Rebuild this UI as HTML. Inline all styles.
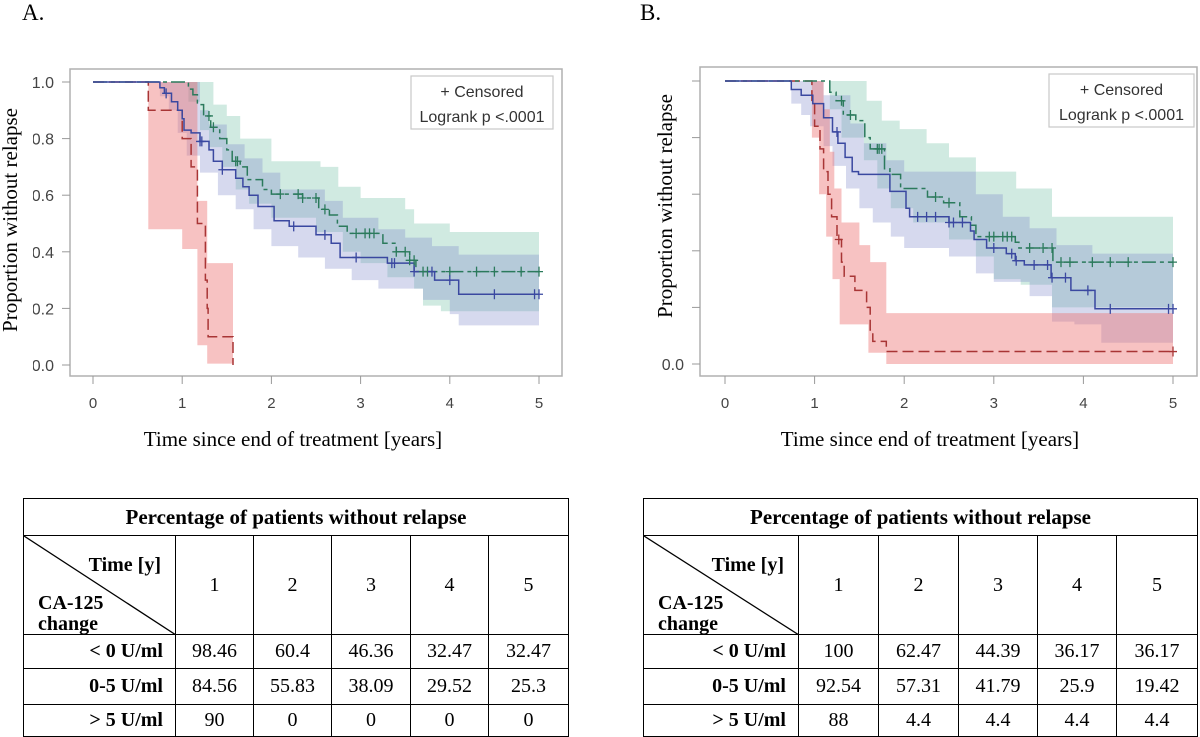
<!DOCTYPE html>
<html><head><meta charset="utf-8">
<style>
body{margin:0;background:#fff;width:1200px;height:736px;overflow:hidden;position:relative;font-family:"Liberation Serif",serif}
.lbl{position:absolute;font-size:23px;font-family:"Liberation Serif",serif}
table.t{position:absolute;border-collapse:collapse;font-family:"Liberation Serif",serif;font-size:20px;table-layout:fixed}
table.t td{border:1.5px solid #000;text-align:center;padding:0}
table.t td.rh{text-align:right;font-weight:bold;padding-right:12px}
.hd{position:relative}
</style></head><body>
<div class="lbl" style="left:22px;top:0px">A.</div>
<div class="lbl" style="left:640px;top:0px">B.</div>
<svg id="chart" width="1200" height="736" style="position:absolute;left:0;top:0"></svg>

<table class="t" style="left:23px;top:498px;width:545px">
<colgroup><col style="width:152px"><col style="width:78px"><col style="width:78px"><col style="width:79px"><col style="width:78px"><col style="width:80px"></colgroup>
<tr style="height:37px"><td colspan="6" style="font-weight:bold;font-size:21px">Percentage of patients without relapse</td></tr>
<tr style="height:99px"><td class="hd"><svg width="152" height="99" style="position:absolute;left:0;top:0"><line x1="0" y1="0" x2="152" y2="99" stroke="#000" stroke-width="1.3"/><text x="137" y="35" text-anchor="end" font-weight="bold" font-size="20" font-family="Liberation Serif">Time [y]</text><text x="14" y="73" font-weight="bold" font-size="20" font-family="Liberation Serif">CA-125</text><text x="14" y="94" font-weight="bold" font-size="20" font-family="Liberation Serif">change</text></svg></td><td>1</td><td>2</td><td>3</td><td>4</td><td>5</td></tr>
<tr style="height:34px"><td class="rh">&lt; 0 U/ml</td><td>98.46</td><td>60.4</td><td>46.36</td><td>32.47</td><td>32.47</td></tr>
<tr style="height:36px"><td class="rh">0-5 U/ml</td><td>84.56</td><td>55.83</td><td>38.09</td><td>29.52</td><td>25.3</td></tr>
<tr style="height:32px"><td class="rh">&gt; 5 U/ml</td><td>90</td><td>0</td><td>0</td><td>0</td><td>0</td></tr>
</table>

<table class="t" style="left:643px;top:498px;width:554px">
<colgroup><col style="width:155px"><col style="width:80px"><col style="width:80px"><col style="width:79px"><col style="width:79px"><col style="width:81px"></colgroup>
<tr style="height:37px"><td colspan="6" style="font-weight:bold;font-size:21px">Percentage of patients without relapse</td></tr>
<tr style="height:99px"><td class="hd"><svg width="155" height="99" style="position:absolute;left:0;top:0"><line x1="0" y1="0" x2="155" y2="99" stroke="#000" stroke-width="1.3"/><text x="140" y="35" text-anchor="end" font-weight="bold" font-size="20" font-family="Liberation Serif">Time [y]</text><text x="14" y="73" font-weight="bold" font-size="20" font-family="Liberation Serif">CA-125</text><text x="14" y="94" font-weight="bold" font-size="20" font-family="Liberation Serif">change</text></svg></td><td>1</td><td>2</td><td>3</td><td>4</td><td>5</td></tr>
<tr style="height:34px"><td class="rh">&lt; 0 U/ml</td><td>100</td><td>62.47</td><td>44.39</td><td>36.17</td><td>36.17</td></tr>
<tr style="height:36px"><td class="rh">0-5 U/ml</td><td>92.54</td><td>57.31</td><td>41.79</td><td>25.9</td><td>19.42</td></tr>
<tr style="height:32px"><td class="rh">&gt; 5 U/ml</td><td>88</td><td>4.4</td><td>4.4</td><td>4.4</td><td>4.4</td></tr>
</table>

<script>
// ---- Panel A data ----
const aGreen=[[0,1],[1.07,0.975],[1.12,0.955],[1.17,0.92],[1.24,0.88],[1.32,0.84],[1.42,0.80],[1.5,0.76],[1.56,0.72],[1.65,0.70],[1.73,0.655],[1.9,0.62],[2.0,0.604],[2.35,0.59],[2.53,0.55],[2.65,0.53],[2.74,0.49],[2.85,0.465],[3.25,0.43],[3.4,0.40],[3.55,0.37],[3.62,0.33]];
const aBlue=[[0,1],[0.75,0.98],[0.8,0.96],[0.88,0.93],[0.95,0.90],[1.0,0.87],[1.02,0.83],[1.1,0.82],[1.2,0.79],[1.3,0.76],[1.35,0.72],[1.45,0.69],[1.6,0.66],[1.68,0.63],[1.75,0.60],[1.85,0.56],[2.03,0.51],[2.2,0.49],[2.5,0.46],[2.67,0.43],[2.77,0.38],[3.3,0.36],[3.6,0.33],[3.83,0.30],[4.1,0.25]];
const aRed=[[0,1],[0.62,0.9],[1.0,0.8],[1.1,0.7],[1.17,0.5],[1.26,0.3],[1.28,0.2],[1.29,0.1],[1.57,0]];
const aGreenUp=[[1.07,1],[1.2,1],[1.35,0.92],[1.5,0.88],[1.65,0.80],[2.0,0.72],[2.55,0.70],[2.75,0.63],[3.0,0.59],[3.5,0.55],[3.6,0.50],[4.0,0.47]];
const aGreenLo=[[1.07,0.93],[1.2,0.83],[1.3,0.77],[1.45,0.70],[1.6,0.62],[1.75,0.57],[2.0,0.52],[2.5,0.47],[2.8,0.40],[3.0,0.36],[3.3,0.31],[3.6,0.27],[3.7,0.21],[3.9,0.19]];
const aBlueUp=[[0.75,1],[0.95,1],[1.2,0.9],[1.3,0.85],[1.5,0.78],[1.7,0.73],[1.9,0.68],[2.1,0.62],[2.6,0.58],[2.8,0.52],[3.2,0.48],[3.5,0.45],[3.8,0.42],[4.1,0.39]];
const aBlueLo=[[0.75,0.95],[0.85,0.90],[0.95,0.82],[1.05,0.74],[1.2,0.68],[1.4,0.60],[1.6,0.55],[1.8,0.48],[2.0,0.42],[2.3,0.38],[2.6,0.34],[2.9,0.30],[3.2,0.27],[3.7,0.23],[4.0,0.18],[4.1,0.14]];
const aRedUp=[[0.62,1],[1.17,0.58],[1.28,0.36]];
const aRedLo=[[0.62,0.48],[1.0,0.41],[1.17,0.07],[1.28,0.005]];
const aGreenCens=[1.3,1.35,1.6,1.62,2.1,2.3,2.35,2.5,2.6,2.95,3.05,3.1,3.15,3.4,3.5,3.55,3.6,3.7,3.75,4.0,4.3,4.5,4.8,5.0];
const aBlueCens=[0.82,1.2,1.22,1.45,2.25,2.6,2.95,3.35,3.38,3.6,3.8,4.0,4.5,4.95,5.0];
// ---- Panel B data ----
const bGreen=[[0,1],[1.17,0.96],[1.24,0.93],[1.32,0.88],[1.46,0.86],[1.56,0.80],[1.62,0.76],[1.78,0.69],[1.84,0.67],[1.96,0.62],[2.26,0.59],[2.44,0.57],[2.62,0.52],[2.75,0.49],[2.8,0.45],[3.24,0.43],[3.28,0.41],[3.66,0.36]];
const bBlue=[[0,1],[0.74,0.97],[0.85,0.95],[0.98,0.92],[1.1,0.87],[1.2,0.82],[1.26,0.78],[1.34,0.73],[1.42,0.68],[1.49,0.67],[1.84,0.61],[2.02,0.55],[2.06,0.52],[2.5,0.50],[2.74,0.47],[2.78,0.44],[2.92,0.41],[3.14,0.39],[3.24,0.365],[3.34,0.35],[3.64,0.305],[3.86,0.26],[4.13,0.195]];
const bRed=[[0,1],[0.97,0.92],[1.0,0.84],[1.06,0.76],[1.1,0.68],[1.15,0.6],[1.19,0.52],[1.25,0.44],[1.3,0.36],[1.33,0.31],[1.45,0.26],[1.58,0.2],[1.62,0.12],[1.65,0.08],[1.8,0.044]];
const bGreenUp=[[1.17,1],[1.58,0.93],[1.75,0.86],[1.95,0.83],[2.25,0.78],[2.5,0.73],[2.8,0.68],[3.25,0.62],[3.65,0.52]];
const bGreenLo=[[1.17,0.9],[1.3,0.8],[1.55,0.72],[1.7,0.62],[1.85,0.55],[2.1,0.5],[2.5,0.44],[2.8,0.38],[3.0,0.3],[3.3,0.28],[3.65,0.2]];
const bBlueUp=[[0.74,1],[1.1,0.95],[1.4,0.85],[1.55,0.78],[1.8,0.72],[2.0,0.68],[2.8,0.6],[3.1,0.52],[3.4,0.48],[3.7,0.42],[4.1,0.39]];
const bBlueLo=[[0.74,0.92],[0.85,0.88],[0.95,0.84],[1.1,0.77],[1.2,0.7],[1.35,0.62],[1.5,0.55],[1.65,0.5],[1.85,0.45],[2.0,0.41],[2.5,0.38],[2.8,0.32],[3.0,0.29],[3.4,0.24],[3.65,0.15],[3.9,0.14],[4.2,0.075]];
const bRedUp=[[0.97,1],[1.1,0.9],[1.17,0.75],[1.22,0.62],[1.3,0.5],[1.5,0.42],[1.62,0.36],[1.8,0.18]];
const bRedLo=[[0.97,0.8],[1.05,0.6],[1.13,0.45],[1.2,0.3],[1.28,0.14],[1.6,0.04],[1.8,0]];
const bGreenCens=[1.3,1.4,1.7,1.72,1.75,2.35,2.5,2.95,3.0,3.1,3.15,3.2,3.4,3.55,3.65,3.75,3.85,4.1,4.3,4.5,5.0];
const bBlueCens=[1.25,2.15,2.25,2.35,2.5,2.55,2.65,3.0,3.2,3.25,3.45,3.6,3.65,3.8,4.05,4.3,4.95,5.0];
const bRedCens=[1.27,5.0];
const xTicks=[0,1,2,3,4,5];
const yTicks=[0,0.2,0.4,0.6,0.8,1.0];

const svg=document.getElementById('chart');
const NS='http://www.w3.org/2000/svg';
function mk(tag,attrs,parent){const e=document.createElementNS(NS,tag);for(const k in attrs)e.setAttribute(k,attrs[k]);(parent||svg).appendChild(e);return e;}
function stepVerts(arr,t1,X,Y){const v=[];for(let i=0;i<arr.length;i++){const t=arr[i][0],s=arr[i][1];if(i>0)v.push([X(t),Y(arr[i-1][1])]);v.push([X(t),Y(s)]);}v.push([X(t1),Y(arr[arr.length-1][1])]);return v;}
function valAt(arr,t){let s=arr[0][1];for(const p of arr){if(p[0]<=t)s=p[1];}return s;}

function panel(cfg){
  const g=mk('g',{});
  
  
  const X=t=>cfg.x0+t*cfg.xs, Y=s=>cfg.y0-s*cfg.ys;
  const fr=mk('rect',{x:cfg.fl,y:cfg.ft,width:cfg.fr-cfg.fl,height:cfg.fb-cfg.ft,fill:'none',stroke:'#b0b0b0','stroke-width':1.5},g);
  
  
  function band(up,lo,end,fill,name){
    const vu=stepVerts(up,end,X,Y), vl=stepVerts(lo,end,X,Y).reverse();
    const pts=vu.concat(vl).map(p=>p[0].toFixed(1)+','+p[1].toFixed(1)).join(' ');
    const pg=mk('polygon',{points:pts,fill:fill,stroke:'none'},g);
    
    
  }
  band(cfg.gUp,cfg.gLo,5,'rgba(120,195,170,0.35)','ci-band-lt0');
  band(cfg.bUp,cfg.bLo,5,'rgba(120,130,200,0.3)','ci-band-0to5');
  band(cfg.rUp,cfg.rLo,cfg.rEnd,'rgba(235,110,110,0.42)','ci-band-gt5');
  function curve(arr,end,col,dash,name){
    const v=stepVerts(arr,end,X,Y);
    const d='M'+v.map(p=>p[0].toFixed(1)+','+p[1].toFixed(1)).join(' L');
    const p=mk('path',{d:d,fill:'none',stroke:col,'stroke-width':1.5,'stroke-dasharray':dash},g);
    
    
  }
  function cens(arr,times,col,name){
    for(const t of times){const x=X(t),y=Y(valAt(arr,t));
      const c=mk('path',{d:`M${x-4},${y} H${x+4} M${x},${y-5} V${y+5}`,stroke:col,'stroke-width':1.3},g);
      
      }
  }
  curve(cfg.red,cfg.rEnd,'#a83535','11,5','curve-gt5');
  curve(cfg.green,5,'#2b7a5c','14,4,4,4','curve-lt0');
  curve(cfg.blue,5,'#3a48a0','','curve-0to5');
  cens(cfg.green,cfg.gC,'#2b7a5c','censor-lt0');
  cens(cfg.blue,cfg.bC,'#3a48a0','censor-0to5');
  if(cfg.rC)cens(cfg.red,cfg.rC,'#a83535','censor-gt5');
  for(const t of xTicks){const x=X(t);
    const tk=mk('line',{x1:x,x2:x,y1:cfg.fb,y2:cfg.fb+8,stroke:'#999','stroke-width':1},g);
    
    
    const tx=mk('text',{x:x,y:cfg.fb+32,'text-anchor':'middle','font-size':15,fill:'#444','font-family':'Liberation Sans, sans-serif'},g);
    tx.textContent=t;
    
    }
  for(const s of yTicks){const y=Y(s);
    const tk=mk('line',{x1:cfg.fl-8,x2:cfg.fl,y1:y,y2:y,stroke:'#999','stroke-width':1},g);
    
    
    if(cfg.yLabels||s===0){
      const tx=mk('text',{x:cfg.fl-16,y:y+6,'text-anchor':'end','font-size':16,fill:'#444','font-family':'Liberation Sans, sans-serif','clip-path':cfg.clip},g);
      tx.textContent=s.toFixed(1);
      
      }
  }
  const xt=mk('text',{x:cfg.xtx,y:446,'text-anchor':'middle','font-size':21,fill:'#000','font-family':'Liberation Serif, serif'},g);
  xt.textContent='Time since end of treatment [years]';
  
  
  const yt=mk('text',{x:0,y:0,'text-anchor':'middle','font-size':21,fill:'#000','font-family':'Liberation Serif, serif',transform:`translate(${cfg.ytx},${cfg.yty}) rotate(-90)`},g);
  yt.textContent='Proportion without relapse';
  
  
  const lg=mk('g',{},g);
  
  
  mk('rect',{x:cfg.lx,y:cfg.ly,width:cfg.lw,height:53,fill:'#fff',stroke:'#c8c8c8','stroke-width':1.2},lg);
  const l1=mk('text',{x:cfg.lx+cfg.lw/2,y:cfg.ly+21,'text-anchor':'middle','font-size':16,fill:'#333','font-family':'Liberation Sans, sans-serif'},lg);
  l1.textContent='+ Censored';
  
  
  const l2=mk('text',{x:cfg.lx+cfg.lw/2,y:cfg.ly+46,'text-anchor':'middle','font-size':16,fill:'#333','font-family':'Liberation Sans, sans-serif'},lg);
  l2.textContent='Logrank p <.0001';
  
  
}
const defs=mk('defs',{});
const cp=mk('clipPath',{id:'clipA'},defs);
mk('rect',{x:33,y:0,width:40,height:736},cp);

panel({name:'panel-a-chart',x0:93,xs:89.2,y0:365,ys:283,fl:70,fr:562,ft:69,fb:376,
  green:aGreen,blue:aBlue,red:aRed,gUp:aGreenUp,gLo:aGreenLo,bUp:aBlueUp,bLo:aBlueLo,rUp:aRedUp,rLo:aRedLo,rEnd:1.57,
  gC:aGreenCens,bC:aBlueCens,yLabels:true,clip:'url(#clipA)',xtx:293,ytx:17,yty:220,lx:411,ly:76,lw:142});
panel({name:'panel-b-chart',x0:725,xs:89.6,y0:364,ys:283,fl:700,fr:1197,ft:67,fb:376,
  green:bGreen,blue:bBlue,red:bRed,gUp:bGreenUp,gLo:bGreenLo,bUp:bBlueUp,bLo:bBlueLo,rUp:bRedUp,rLo:bRedLo,rEnd:5,
  gC:bGreenCens,bC:bBlueCens,rC:bRedCens,yLabels:false,xtx:930,ytx:672,yty:206,lx:1049,ly:74,lw:145});
</script>
</body></html>
